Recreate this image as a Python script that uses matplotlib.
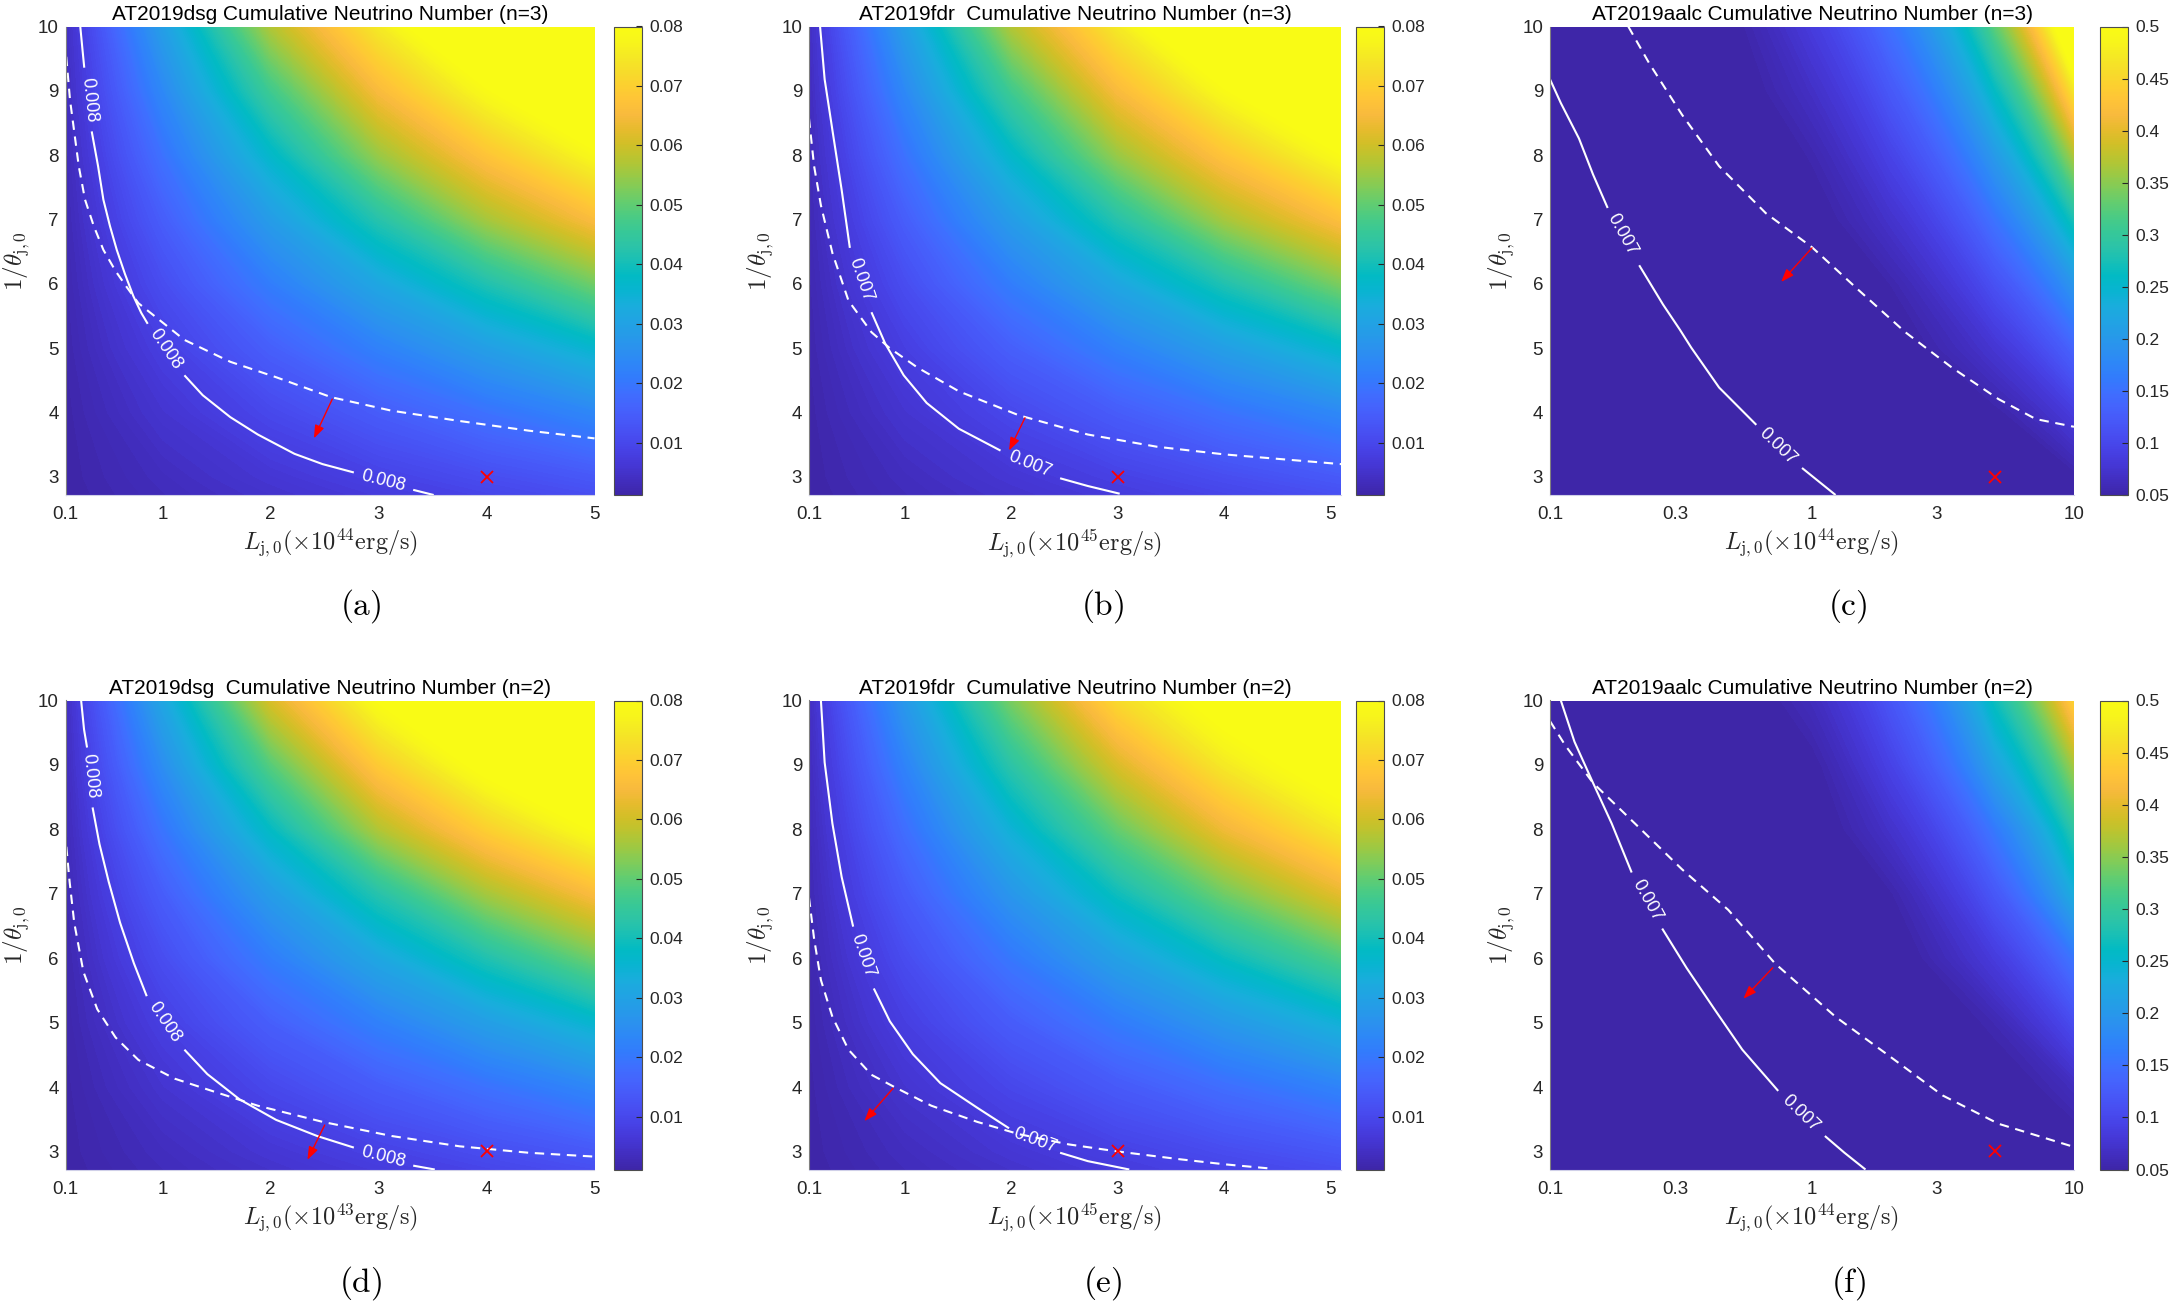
import numpy as np
import matplotlib
matplotlib.use("Agg")
import matplotlib.pyplot as plt
from matplotlib.colors import LinearSegmentedColormap, Normalize
from matplotlib.cm import ScalarMappable

plt.rcParams['font.family'] = 'Liberation Sans'
plt.rcParams['mathtext.fontset'] = 'cm'

# ---------------- data ----------------
# grid nodes of 1/theta (rows) shared by all panels
Y_NODES = [2.72, 3, 4, 5, 6, 7, 8, 9, 10]
# luminosity nodes (columns)
L_AD = [0.1, 1, 2, 3, 4, 5]
L_BE = [0.1, 1, 2, 3, 4, 5.1]
L_CF = [0.1, 0.2, 0.5, 1, 2, 5, 10]

# cumulative neutrino number, one row per Y_NODES entry
VAL_A = [[0.0012, 0.0031, 0.0051, 0.0072, 0.0093, 0.0114],
         [0.0013, 0.0035, 0.0060, 0.0086, 0.0111, 0.0136],
         [0.0014, 0.0055, 0.0100, 0.0144, 0.0189, 0.0234],
         [0.0017, 0.0080, 0.0150, 0.0220, 0.0290, 0.0360],
         [0.0020, 0.0111, 0.0212, 0.0312, 0.0413, 0.0514],
         [0.0024, 0.0147, 0.0284, 0.0422, 0.0559, 0.0658],
         [0.0028, 0.0189, 0.0368, 0.0548, 0.0676, 0.0784],
         [0.0033, 0.0237, 0.0464, 0.0654, 0.0790, 0.0920],
         [0.0038, 0.0290, 0.0570, 0.0750, 0.0920, 0.1090]]
VAL_B = [[0.0012, 0.0031, 0.0051, 0.0072, 0.0093, 0.0116],
         [0.0013, 0.0035, 0.0060, 0.0086, 0.0111, 0.0139],
         [0.0014, 0.0055, 0.0100, 0.0144, 0.0189, 0.0238],
         [0.0017, 0.0080, 0.0150, 0.0220, 0.0290, 0.0367],
         [0.0020, 0.0111, 0.0212, 0.0312, 0.0413, 0.0524],
         [0.0024, 0.0147, 0.0284, 0.0422, 0.0559, 0.0666],
         [0.0028, 0.0189, 0.0368, 0.0548, 0.0676, 0.0794],
         [0.0033, 0.0237, 0.0464, 0.0654, 0.0790, 0.0940],
         [0.0038, 0.0290, 0.0570, 0.0750, 0.0920, 0.1100]]
VAL_C = [[0.030, 0.030, 0.031, 0.031, 0.033, 0.0375, 0.045],
         [0.030, 0.030, 0.031, 0.032, 0.034, 0.0396, 0.0492],
         [0.030, 0.031, 0.032, 0.034, 0.038, 0.0497, 0.0859],
         [0.031, 0.031, 0.033, 0.037, 0.044, 0.0767, 0.1356],
         [0.031, 0.032, 0.035, 0.041, 0.053, 0.1115, 0.198],
         [0.031, 0.033, 0.038, 0.046, 0.072, 0.1534, 0.275],
         [0.032, 0.034, 0.041, 0.054, 0.095, 0.2026, 0.3676],
         [0.033, 0.036, 0.045, 0.068, 0.121, 0.2606, 0.467],
         [0.034, 0.038, 0.049, 0.085, 0.150, 0.3264, 0.574]]
VAL_D = [[0.0012, 0.0031, 0.0051, 0.0072, 0.0093, 0.0114],
         [0.0013, 0.0035, 0.0060, 0.0086, 0.0111, 0.0136],
         [0.0014, 0.0055, 0.0100, 0.0144, 0.0189, 0.0234],
         [0.0017, 0.0080, 0.0150, 0.0220, 0.0290, 0.0360],
         [0.0020, 0.0111, 0.0212, 0.0312, 0.0413, 0.0514],
         [0.0024, 0.0147, 0.0284, 0.0422, 0.0559, 0.0658],
         [0.0028, 0.0195, 0.0380, 0.0570, 0.0700, 0.0800],
         [0.0033, 0.0250, 0.0490, 0.0690, 0.0820, 0.0940],
         [0.0038, 0.0310, 0.0610, 0.0800, 0.0960, 0.1120]]
VAL_E = [[0.0012, 0.0031, 0.0051, 0.0072, 0.0091, 0.0112],
         [0.0013, 0.0035, 0.0060, 0.0084, 0.0108, 0.0133],
         [0.0014, 0.0055, 0.0097, 0.0139, 0.0181, 0.0226],
         [0.0017, 0.0079, 0.0144, 0.0209, 0.0274, 0.0344],
         [0.0020, 0.0108, 0.0201, 0.0295, 0.0385, 0.0484],
         [0.0024, 0.0142, 0.0269, 0.0393, 0.0513, 0.0626],
         [0.0028, 0.0181, 0.0345, 0.0504, 0.0639, 0.0752],
         [0.0033, 0.0225, 0.0430, 0.0612, 0.0749, 0.0847],
         [0.0038, 0.0274, 0.0521, 0.0719, 0.0834, 0.0940]]
VAL_F = [[0.030, 0.030, 0.030, 0.031, 0.032, 0.035, 0.040],
         [0.030, 0.030, 0.031, 0.031, 0.032, 0.036, 0.043],
         [0.030, 0.031, 0.031, 0.033, 0.035, 0.043, 0.063],
         [0.030, 0.031, 0.032, 0.034, 0.039, 0.056, 0.106],
         [0.031, 0.031, 0.034, 0.037, 0.044, 0.085, 0.156],
         [0.031, 0.032, 0.035, 0.040, 0.052, 0.120, 0.231],
         [0.031, 0.033, 0.037, 0.044, 0.071, 0.160, 0.291],
         [0.032, 0.034, 0.040, 0.049, 0.094, 0.216, 0.363],
         [0.033, 0.035, 0.043, 0.062, 0.117, 0.268, 0.446]]

CLIM_AB = [0.0012, 0.08]
CLIM_DE = [0.00115, 0.08]
CLIM_CF = [0.05, 0.5]
CB_TICKS_LOW = [0.01, 0.02, 0.03, 0.04, 0.05, 0.06, 0.07, 0.08]
CB_TICKS_HIGH = [0.05, 0.1, 0.15, 0.2, 0.25, 0.3, 0.35, 0.4, 0.45, 0.5]
X_TICKS_LIN = [0.1, 1, 2, 3, 4, 5]
X_TICKS_LOG = [0.1, 0.3, 1, 3, 10]
Y_TICKS = [3, 4, 5, 6, 7, 8, 9, 10]

# labelled contour (solid white), pieces between the inline labels
SOLID_A = [[(0.235, 10.0), (0.255, 9.65), (0.272, 9.36)],
           [(0.341, 8.37), (0.40, 7.83), (0.449, 7.31), (0.51, 6.9), (0.573, 6.53),
            (0.65, 6.15), (0.727, 5.81), (0.80, 5.55), (0.86, 5.38)],
           [(1.20, 4.58), (1.37, 4.27), (1.625, 3.93), (1.88, 3.66), (2.22, 3.36),
            (2.48, 3.20), (2.77, 3.07)],
           [(3.32, 2.80), (3.51, 2.72)]]
SOLID_B = [[(0.204, 10.0), (0.247, 9.18), (0.32, 8.39), (0.407, 7.46), (0.484, 6.56)],
           [(0.687, 5.56), (0.817, 5.07), (0.99, 4.58), (1.206, 4.15), (1.508, 3.75),
            (1.90, 3.41)],
           [(2.46, 2.98), (2.72, 2.86), (3.02, 2.74)]]
SOLID_C = [[(0.1, 9.18), (0.110, 8.81), (0.129, 8.26), (0.146, 7.70), (0.166, 7.18)],
           [(0.219, 6.29), (0.270, 5.68), (0.313, 5.29), (0.346, 5.01), (0.442, 4.39),
            (0.613, 3.81)],
           [(0.916, 3.14), (1.23, 2.72)]]
SOLID_D = [[(0.243, 10.0), (0.270, 9.55), (0.298, 9.27)],
           [(0.349, 8.34), (0.413, 7.77), (0.498, 7.19), (0.604, 6.55), (0.732, 5.92),
            (0.851, 5.41)],
           [(1.20, 4.58), (1.413, 4.20), (1.71, 3.81), (2.05, 3.49), (2.43, 3.24),
            (2.77, 3.06)],
           [(3.32, 2.78), (3.52, 2.72)]]
SOLID_E = [[(0.212, 10.0), (0.247, 9.04), (0.32, 8.09), (0.407, 7.26), (0.515, 6.49)],
           [(0.709, 5.53), (0.86, 5.02), (1.076, 4.51), (1.335, 4.06), (1.68, 3.68),
            (1.98, 3.36)],
           [(2.46, 2.98), (2.72, 2.85), (3.11, 2.72)]]
SOLID_F = [[(0.110, 10.0), (0.124, 9.36), (0.146, 8.72), (0.172, 8.09), (0.205, 7.33)],
           [(0.268, 6.46), (0.332, 5.85), (0.424, 5.21), (0.542, 4.58), (0.743, 3.94)],
           [(1.12, 3.24), (1.33, 2.98), (1.60, 2.72)]]

# inline contour labels: (x, y, rotation in degrees)
CLAB_A = [(0.316, 8.86, -84), (1.03, 4.98, -56), (3.045, 2.935, -14)]
CLAB_B = [(0.585, 6.06, -71), (2.18, 3.19, -22)]
CLAB_C = [(0.189, 6.77, -61), (0.737, 3.47, -44)]
CLAB_D = [(0.322, 8.82, -84), (1.02, 5.0, -56), (3.045, 2.92, -14)]
CLAB_E = [(0.61, 6.03, -71), (2.22, 3.17, -20)]
CLAB_F = [(0.234, 6.90, -61), (0.905, 3.59, -44)]

# dashed white curve
DASH_A_X = [0.105, 0.14, 0.221, 0.279, 0.36, 0.449, 0.562, 0.666, 0.774, 1.2, 1.625, 2.05, 2.56, 3.12, 3.75, 4.39, 5.0]
DASH_A_Y = [9.53, 8.86, 7.83, 7.31, 6.9, 6.53, 6.2, 5.95, 5.7, 5.13, 4.79, 4.55, 4.24, 4.03, 3.87, 3.72, 3.60]
DASH_B_X = [0.1, 0.148, 0.212, 0.32, 0.471, 0.687, 0.86, 1.12, 1.51, 2.07, 2.72, 3.37, 4.01, 5.1]
DASH_B_Y = [8.57, 7.83, 7.22, 6.48, 5.74, 5.25, 5.0, 4.70, 4.33, 3.96, 3.66, 3.47, 3.35, 3.20]
DASH_C_X = [0.199, 0.239, 0.319, 0.442, 0.666, 1.0, 1.51, 2.27, 3.42, 5.15, 7.15, 10]
DASH_C_Y = [10.0, 9.43, 8.63, 7.83, 7.10, 6.57, 5.90, 5.25, 4.70, 4.21, 3.90, 3.78]
DASH_D_X = [0.106, 0.136, 0.179, 0.264, 0.392, 0.562, 0.774, 1.11, 1.455, 1.88, 2.48, 3.12, 3.75, 4.39, 5.0]
DASH_D_Y = [7.73, 7.19, 6.55, 5.79, 5.21, 4.77, 4.42, 4.13, 3.94, 3.71, 3.46, 3.24, 3.08, 2.98, 2.92]
DASH_E_X = [0.1, 0.148, 0.212, 0.32, 0.471, 0.687, 0.903, 1.25, 1.68, 2.07, 2.54, 3.0, 3.58, 4.01, 4.47]
DASH_E_Y = [6.94, 6.30, 5.66, 5.09, 4.58, 4.19, 4.0, 3.71, 3.46, 3.27, 3.11, 3.0, 2.88, 2.80, 2.73]
DASH_F_X = [0.1, 0.1145, 0.146, 0.211, 0.319, 0.479, 0.722, 1.23, 1.93, 3.15, 5.15, 10]
DASH_F_Y = [9.68, 9.30, 8.72, 8.09, 7.38, 6.75, 5.92, 5.09, 4.51, 3.87, 3.43, 3.07]

# red arrows (start -> end) and red crosses
ARROW_A = [(2.57, 4.21), (2.40, 3.60)]
ARROW_B = [(2.13, 3.92), (1.98, 3.41)]
ARROW_C = [(1.0, 6.56), (0.762, 6.03)]
ARROW_D = [(2.50, 3.41), (2.34, 2.87)]
ARROW_E = [(0.89, 3.98), (0.62, 3.47)]
ARROW_F = [(0.708, 5.85), (0.547, 5.37)]
MARK_A = (4, 3)
MARK_B = (3, 3)
MARK_C = (5, 3)
MARK_D = (4, 3)
MARK_E = (3, 3)
MARK_F = (5, 3)

TITLES = ['AT2019dsg Cumulative Neutrino Number (n=3)',
          'AT2019fdr  Cumulative Neutrino Number (n=3)',
          'AT2019aalc Cumulative Neutrino Number (n=3)',
          'AT2019dsg  Cumulative Neutrino Number (n=2)',
          'AT2019fdr  Cumulative Neutrino Number (n=2)',
          'AT2019aalc Cumulative Neutrino Number (n=2)']
L_EXPONENTS = ['44', '45', '44', '43', '45', '44']
CLAB_TEXT = ['0.008', '0.007', '0.007', '0.008', '0.007', '0.007']
LETTERS = ['(a)', '(b)', '(c)', '(d)', '(e)', '(f)']

# MATLAB parula colormap
parula = LinearSegmentedColormap.from_list('parula', [
    (0.2422, 0.1504, 0.6603), (0.2578, 0.1818, 0.7511), (0.2706, 0.2147, 0.8364),
    (0.2783, 0.2559, 0.8991), (0.2813, 0.3006, 0.9414), (0.2795, 0.3447, 0.9717),
    (0.2699, 0.3892, 0.9906), (0.2440, 0.4358, 0.9988), (0.1963, 0.4847, 0.9892),
    (0.1786, 0.5289, 0.9682), (0.1687, 0.5703, 0.9359), (0.1460, 0.6091, 0.9079),
    (0.1248, 0.6459, 0.8883), (0.0952, 0.6798, 0.8598), (0.0297, 0.7082, 0.8163),
    (0.0067, 0.7312, 0.7660), (0.0964, 0.7500, 0.7120), (0.1717, 0.7670, 0.6554),
    (0.2161, 0.7843, 0.5923), (0.2906, 0.7973, 0.5188), (0.3909, 0.8029, 0.4354),
    (0.5044, 0.7993, 0.3480), (0.6174, 0.7876, 0.2612), (0.7242, 0.7698, 0.1910),
    (0.8203, 0.7498, 0.1535), (0.9035, 0.7330, 0.1774), (0.9728, 0.7298, 0.2394),
    (0.9970, 0.7659, 0.2199), (0.9892, 0.8136, 0.1885), (0.9676, 0.8639, 0.1643),
    (0.9597, 0.9135, 0.1423), (0.9691, 0.9606, 0.1064), (0.9769, 0.9839, 0.0805)], N=256)

W, H = 2170, 1304
COL_X0 = [65.7, 809, 1550]
COL_X1 = [594.5, 1341, 2074]
CB_X0 = [614, 1356, 2100]
ROW_Y0 = [26.5, 700.5]
ROW_Y1 = [495, 1169.5]
LETTER_X = [361, 1103, 1848]
LETTER_Y = [606, 1283]


def box(x0, y0, x1, y1):
    return [x0 / W, 1 - y1 / H, (x1 - x0) / W, (y1 - y0) / H]


def panel(fig, k, lum, vals, clim, cticks, logx, solid, clab, dx, dy, arrow, mark):
    col, row = k % 3, k // 3
    ax = fig.add_axes(box(COL_X0[col], ROW_Y0[row], COL_X1[col], ROW_Y1[row]))
    X, Y = np.meshgrid(lum, Y_NODES)
    levels = np.linspace(clim[0], clim[1], 161)
    ax.contourf(X, Y, np.array(vals), levels=levels, cmap=parula,
                extend='both', antialiased=False)
    if logx:
        ax.set_xscale('log')
    ax.set_xlim(lum[0], lum[-1])
    ax.set_ylim(Y_NODES[0], Y_NODES[-1])

    for seg in solid:
        xs, ys = zip(*seg)
        ax.plot(xs, ys, color='white', lw=1.5, solid_capstyle='butt')
    for (tx, ty, rot) in clab:
        ax.text(tx, ty, CLAB_TEXT[k], color='white', fontsize=13, rotation=rot,
                rotation_mode='anchor', ha='center', va='center')
    ax.plot(dx, dy, color='white', lw=1.5, dashes=(4.5, 3.2))
    ax.annotate('', xy=arrow[1], xytext=arrow[0],
                arrowprops=dict(arrowstyle='-|>,head_length=0.6,head_width=0.22',
                                color='red', lw=1.0, shrinkA=0, shrinkB=0,
                                mutation_scale=13))
    ax.plot(*mark, marker='x', color='red', ms=9, mew=1.3, ls='none')

    xt = X_TICKS_LOG if logx else X_TICKS_LIN
    ax.minorticks_off()
    ax.set_xticks(xt)
    ax.set_xticklabels([f'{t:g}' for t in xt])
    ax.set_yticks(Y_TICKS)
    ax.tick_params(length=0, labelsize=13.5, colors='#262626')
    ax.tick_params(axis='x', pad=8)
    ax.tick_params(axis='y', pad=5)
    for s in ['top', 'right']:
        ax.spines[s].set_visible(False)
    ax.spines['left'].set_color('#808080')
    ax.spines['bottom'].set_color('#d0d0e8')
    ax.spines['left'].set_linewidth(0.8)
    ax.spines['bottom'].set_linewidth(0.8)

    ax.set_title(TITLES[k], fontsize=15, pad=5)
    ax.set_xlabel(r'$L_{\mathrm{j},0}(\times10^{%s}\mathrm{erg/s})$' % L_EXPONENTS[k],
                  fontsize=17.5, labelpad=3, color='#262626')
    ax.set_ylabel(r'$1/\theta_{\mathrm{j},0}$', fontsize=18, labelpad=4, color='#262626')

    cax = fig.add_axes(box(CB_X0[col], ROW_Y0[row], CB_X0[col] + 28, ROW_Y1[row]))
    cb = fig.colorbar(ScalarMappable(Normalize(*clim), parula), cax=cax, ticks=cticks)
    cb.ax.set_yticklabels([f'{t:g}' for t in cticks])
    cb.ax.tick_params(direction='in', length=4, width=0.8, labelsize=12.5,
                      colors='#262626', pad=5)
    cb.outline.set_edgecolor('#4d4d4d')
    cb.outline.set_linewidth(0.8)

    fig.text(LETTER_X[col] / W, 1 - LETTER_Y[row] / H, r'$\mathrm{%s}$' % LETTERS[k],
             fontsize=24, ha='center', va='center')


fig = plt.figure(figsize=(W / 100, H / 100), dpi=100)
panel(fig, 0, L_AD, VAL_A, CLIM_AB, CB_TICKS_LOW, False, SOLID_A, CLAB_A, DASH_A_X, DASH_A_Y, ARROW_A, MARK_A)
panel(fig, 1, L_BE, VAL_B, CLIM_AB, CB_TICKS_LOW, False, SOLID_B, CLAB_B, DASH_B_X, DASH_B_Y, ARROW_B, MARK_B)
panel(fig, 2, L_CF, VAL_C, CLIM_CF, CB_TICKS_HIGH, True, SOLID_C, CLAB_C, DASH_C_X, DASH_C_Y, ARROW_C, MARK_C)
panel(fig, 3, L_AD, VAL_D, CLIM_DE, CB_TICKS_LOW, False, SOLID_D, CLAB_D, DASH_D_X, DASH_D_Y, ARROW_D, MARK_D)
panel(fig, 4, L_BE, VAL_E, CLIM_DE, CB_TICKS_LOW, False, SOLID_E, CLAB_E, DASH_E_X, DASH_E_Y, ARROW_E, MARK_E)
panel(fig, 5, L_CF, VAL_F, CLIM_CF, CB_TICKS_HIGH, True, SOLID_F, CLAB_F, DASH_F_X, DASH_F_Y, ARROW_F, MARK_F)

fig.savefig('out.png', dpi=100, facecolor='white')
